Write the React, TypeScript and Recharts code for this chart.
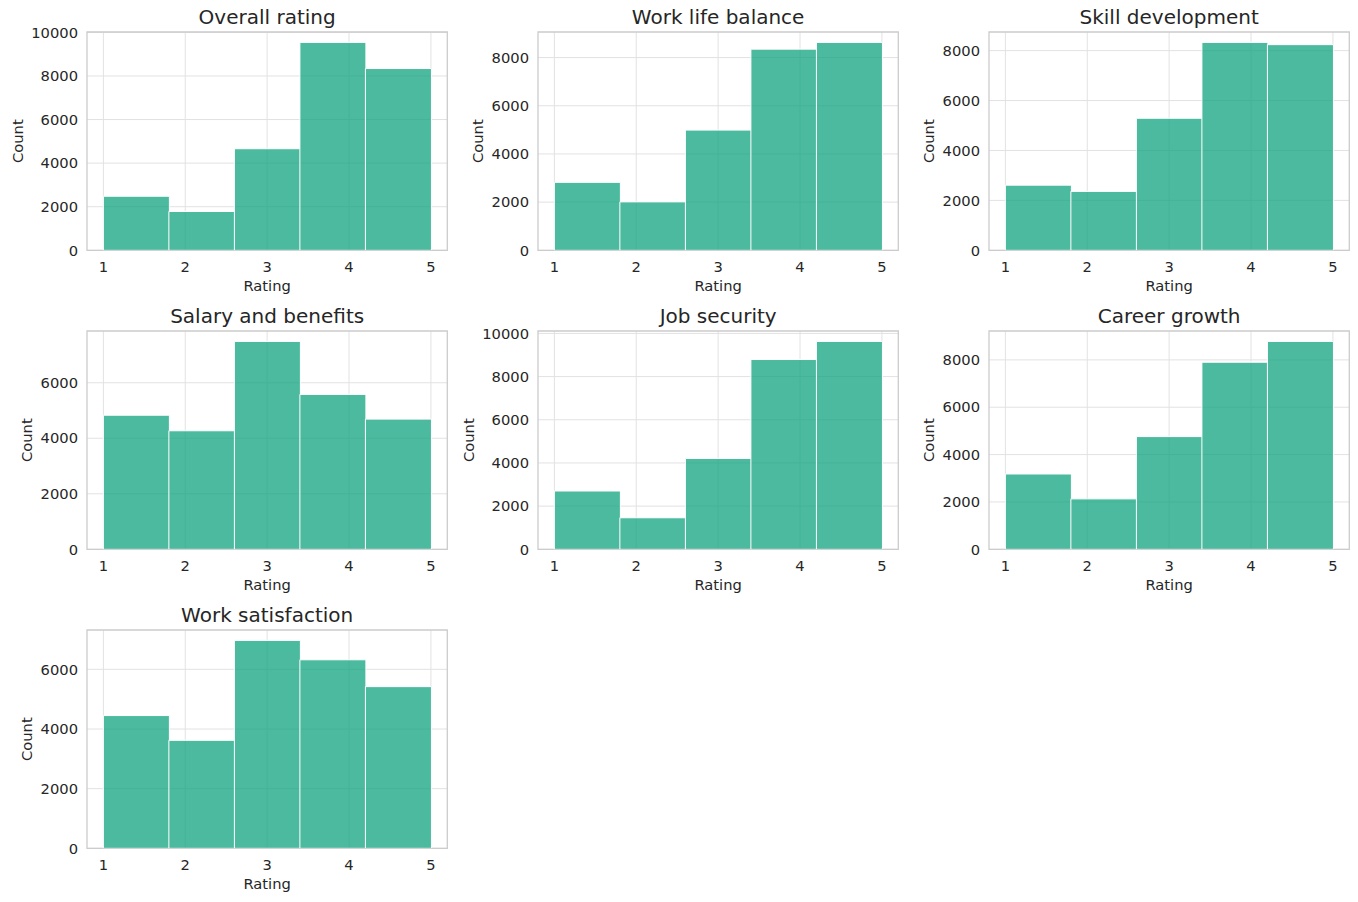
import React from 'react'
import { BarChart, Bar, XAxis, YAxis, CartesianGrid, ReferenceArea } from 'recharts'

// bin centres of the 5 histogram bins (width 0.8, from 1 to 5)
const binCenters = [1.4, 2.2, 3.0, 3.8, 4.6]
const ratingTicks = [1, 2, 3, 4, 5]

const ticks10k = [0, 2000, 4000, 6000, 8000, 10000]
const ticks8k = [0, 2000, 4000, 6000, 8000]
const ticks6k = [0, 2000, 4000, 6000]

// counts per bin
const overallRating = [2480, 1780, 4660, 9540, 8340]
const workLifeBalance = [2820, 2010, 4990, 8350, 8630]
const skillDevelopment = [2610, 2360, 5290, 8330, 8240]
const salaryBenefits = [4830, 4270, 7490, 5580, 4690]
const jobSecurity = [2700, 1460, 4210, 8790, 9630]
const careerGrowth = [3180, 2130, 4760, 7900, 8780]
const workSatisfaction = [4450, 3620, 6970, 6320, 5420]

const panels = [
    { title: 'Overall rating', counts: overallRating, ticks: ticks10k },
    { title: 'Work life balance', counts: workLifeBalance, ticks: ticks8k },
    { title: 'Skill development', counts: skillDevelopment, ticks: ticks8k },
    { title: 'Salary and benefits', counts: salaryBenefits, ticks: ticks6k },
    { title: 'Job security', counts: jobSecurity, ticks: ticks10k },
    { title: 'Career growth', counts: careerGrowth, ticks: ticks8k },
    { title: 'Work satisfaction', counts: workSatisfaction, ticks: ticks6k },
]

const FONT = '"DejaVu Sans", sans-serif'
const TEXT = '#262626'
const BAR = '#10A37F'

const X_MIN = 0.8
const X_MAX = 5.2
const Y_PAD = 1.05

const COL_LEFT = [86.7, 537.7, 989.3]
const ROW_TOP = [32, 331, 630.3]
const PLOT_W = 360.3
const PLOT_H = 218.3
const AXIS_W = 80
const CHART_W = AXIS_W + PLOT_W + 10
const CHART_H = 32 + PLOT_H + 50

const Panel = ({ title, counts, ticks, left, top }: any) => {
    const data = binCenters.map((x, i) => ({ x, count: counts[i] }))
    const yTop = Math.max(...counts) * Y_PAD
    const wide = String(ticks[ticks.length - 1]).length > 4
    const gap = wide ? 64.2 : 54.7

    const yLabel = (props: any) => {
        const vb = props.viewBox
        const cx = vb.x + vb.width - gap
        const cy = vb.y + vb.height / 2
        return (
            <text x={cx} y={cy} transform={`rotate(-90, ${cx}, ${cy})`} textAnchor="middle"
                fill={TEXT} fontSize={14.7} fontFamily={FONT}>Count</text>
        )
    }
    const xLabel = (props: any) => {
        const vb = props.viewBox
        return (
            <text x={vb.x + vb.width / 2} y={vb.y + 40.7} textAnchor="middle"
                fill={TEXT} fontSize={14.7} fontFamily={FONT}>Rating</text>
        )
    }

    return (
        <div style={{ position: 'absolute', left: left - AXIS_W, top: top - 32, width: CHART_W, height: CHART_H }}>
            <svg width={CHART_W} height={32} style={{ position: 'absolute', left: 0, top: 0 }}>
                <text x={AXIS_W + PLOT_W / 2} y={24} textAnchor="middle" fill={TEXT} fontSize={20} fontFamily={FONT}>
                    {title}
                </text>
            </svg>
            <BarChart width={CHART_W} height={CHART_H} data={data} barCategoryGap={0}
                margin={{ top: 32, right: 10, bottom: 0, left: 0 }}>
                <CartesianGrid stroke="#e2e2e2" strokeWidth={1} horizontalValues={ticks} verticalValues={ratingTicks} />
                <XAxis dataKey="x" type="number" domain={[X_MIN, X_MAX]} ticks={ratingTicks} allowDataOverflow
                    height={50} axisLine={false} tickLine={false} tickSize={0} tickMargin={11}
                    tick={{ fill: TEXT, fontSize: 14.7, fontFamily: FONT }} label={xLabel} />
                <YAxis type="number" domain={[0, yTop]} ticks={ticks} allowDataOverflow
                    width={AXIS_W} axisLine={false} tickLine={false} tickSize={0} tickMargin={9}
                    tick={{ fill: TEXT, fontSize: 14.7, fontFamily: FONT }} label={yLabel} />
                <Bar dataKey="count" fill={BAR} fillOpacity={0.75} stroke="#ffffff" strokeWidth={1}
                    isAnimationActive={false} />
                <ReferenceArea x1={X_MIN} x2={X_MAX} y1={0} y2={yTop} fill="none" fillOpacity={0}
                    stroke="#cccccc" strokeWidth={1.3} ifOverflow="visible" />
            </BarChart>
        </div>
    )
}

export default function App() {
    return (
        <div style={{ position: 'absolute', left: 0, top: 0, width: 1358, height: 902, background: '#ffffff' }}>
            {panels.map((p, i) => (
                <Panel key={p.title} {...p} left={COL_LEFT[i % 3]} top={ROW_TOP[Math.floor(i / 3)]} />
            ))}
        </div>
    )
}
